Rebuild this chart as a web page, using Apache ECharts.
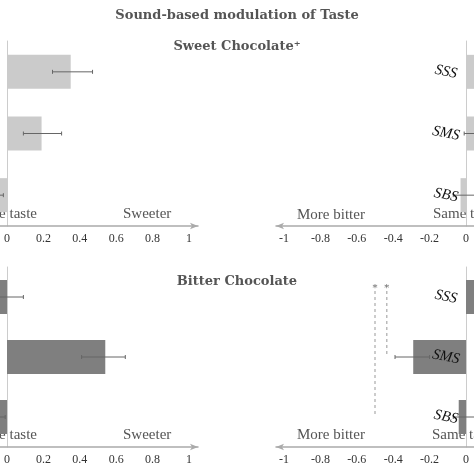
<!DOCTYPE html>
<html lang="en">
<head>
<meta charset="UTF-8">
<title>Sound-based modulation of Taste</title>
<script src="https://cdn.jsdelivr.net/npm/echarts@6/dist/echarts.min.js"></script>
<style>
    html, body { margin: 0; padding: 0; background: #fff; }
    #chart { width: 474px; height: 474px; }
</style>
</head>
<body>
<div id="chart"></div>
<script>
    // categories (top to bottom)
    let categories = ['SSS', 'SMS', 'SBS'];
    let tickLeft = [0, 0.2, 0.4, 0.6, 0.8, 1];
    let tickRight = [-1, -0.8, -0.6, -0.4, -0.2, 0];

    // sweet chocolate: sweetness (left) and bitterness (right)
    let sweetSweeter = [0.35, 0.19, -0.1];
    let sweetSweeterErr = [[0.25, 0.47], [0.09, 0.30], [-0.2, -0.02]];
    let sweetBitter = [0.1, 0.08, -0.03];
    let sweetBitterErr = [[0.05, 0.15], [-0.01, 0.17], [-0.07, 0.05]];

    // bitter chocolate
    let bitterSweeter = [-0.1, 0.54, -0.1];
    let bitterSweeterErr = [[-0.2, 0.09], [0.41, 0.65], [-0.2, -0.01]];
    let bitterBitter = [0.1, -0.29, -0.04];
    let bitterBitterErr = [[0.05, 0.15], [-0.39, -0.2], [-0.07, 0.05]];

    // significance brackets on bitter chocolate, bitterness panel: [x, fromCat, toCat]
    let brackets = [[-0.5, 0, 2], [-0.435, 0, 1]];

    // x position of the condition labels in the bitterness panels
    let labelX = -0.11;

    let serif = 'DejaVu Serif';
    let times = 'Liberation Serif';
    let sweetColor = '#cbcbcb';
    let bitterColor = '#7f7f7f';

    // grid geometry: 182 px per unit
    let grids = [
        {left: 0, top: 41, width: 198, height: 185},
        {left: 284 - 8, top: 41, width: 198, height: 185},
        {left: 0, top: 267, width: 198, height: 180},
        {left: 284 - 8, top: 267, width: 198, height: 180}
    ];

    function xAxisFor(i, isLeft) {
        return {
            type: 'value', gridIndex: i,
            min: isLeft ? -7 / 182 : -1 - 8 / 182,
            max: isLeft ? 1 + 9 / 182 : 8 / 182,
            splitLine: {show: false},
            axisLine: {show: true, onZero: false, lineStyle: {color: '#aaa', width: 1.5},
                symbol: isLeft ? ['none', 'arrow'] : ['arrow', 'none'], symbolSize: [5, 8]},
            axisTick: {show: false},
            axisLabel: {customValues: isLeft ? tickLeft : tickRight, color: '#333',
                fontFamily: times, fontSize: 12, margin: 7}
        };
    }

    function yAxisFor(i) {
        return {
            type: 'category', gridIndex: i, data: categories, inverse: true,
            axisLine: {show: true, onZero: true, lineStyle: {color: '#ccc'}},
            axisTick: {show: false},
            axisLabel: {show: false}
        };
    }

    function barSeries(i, values, color) {
        return {
            type: 'bar', xAxisIndex: i, yAxisIndex: i, data: values,
            barWidth: 34, itemStyle: {color: color}, silent: true
        };
    }

    function errSeries(i, errs) {
        return {
            type: 'custom', xAxisIndex: i, yAxisIndex: i, silent: true, z: 5,
            data: errs.map((e, k) => [k, e[0], e[1]]),
            renderItem: function (params, api) {
                let a = api.coord([api.value(1), api.value(0)]);
                let b = api.coord([api.value(2), api.value(0)]);
                let st = {stroke: '#666', lineWidth: 1};
                return {type: 'group', children: [
                    {type: 'line', shape: {x1: a[0], y1: a[1], x2: b[0], y2: b[1]}, style: st},
                    {type: 'line', shape: {x1: a[0], y1: a[1] - 2, x2: a[0], y2: a[1] + 2}, style: st},
                    {type: 'line', shape: {x1: b[0], y1: b[1] - 2, x2: b[0], y2: b[1] + 2}, style: st}
                ]};
            }
        };
    }

    function labelSeries(i) {
        return {
            type: 'custom', xAxisIndex: i, yAxisIndex: i, silent: true, z: 6,
            data: categories.map((c, k) => [k, labelX, c]),
            renderItem: function (params, api) {
                let p = api.coord([api.value(1), api.value(0)]);
                return {type: 'text', x: p[0], y: p[1], rotation: -0.2,
                    style: {text: categories[params.dataIndex], fill: '#111',
                        font: 'italic 15px ' + times, align: 'center', verticalAlign: 'middle'}};
            }
        };
    }

    let bracketSeries = {
        type: 'custom', xAxisIndex: 3, yAxisIndex: 3, silent: true,
        data: brackets,
        renderItem: function (params, api) {
            let a = api.coord([api.value(0), api.value(1)]);
            let b = api.coord([api.value(0), api.value(2)]);
            return {type: 'group', children: [
                {type: 'line', shape: {x1: a[0], y1: a[1] - 6, x2: b[0], y2: b[1] - 2},
                    style: {stroke: '#999', lineWidth: 1, lineDash: [3, 3]}},
                {type: 'text', style: {x: a[0], y: a[1] - 14, text: '*', fill: '#666',
                    font: '10px ' + serif, align: 'center'}}
            ]};
        }
    };

    function noteText(x, y, text, align) {
        return {type: 'text', left: align === 'right' ? undefined : x, right: align === 'right' ? 474 - x : undefined,
            top: y, style: {text: text, font: '15px ' + times, fill: '#555'}};
    }

    let option = {
        animation: false,
        title: [
            {text: 'Sound-based modulation of Taste', left: 'center', top: 4,
                textStyle: {fontFamily: serif, fontWeight: 'bold', fontSize: 13, color: '#555'}},
            {text: 'Sweet Chocolate\u207A', left: 'center', top: 35,
                textStyle: {fontFamily: serif, fontWeight: 'bold', fontSize: 13, color: '#555'}},
            {text: 'Bitter Chocolate', left: 'center', top: 270,
                textStyle: {fontFamily: serif, fontWeight: 'bold', fontSize: 13, color: '#555'}}
        ],
        grid: grids,
        xAxis: [xAxisFor(0, true), xAxisFor(1, false), xAxisFor(2, true), xAxisFor(3, false)],
        yAxis: [yAxisFor(0), yAxisFor(1), yAxisFor(2), yAxisFor(3)],
        series: [
            barSeries(0, sweetSweeter, sweetColor), errSeries(0, sweetSweeterErr),
            barSeries(1, sweetBitter, sweetColor), errSeries(1, sweetBitterErr), labelSeries(1),
            barSeries(2, bitterSweeter, bitterColor), errSeries(2, bitterSweeterErr),
            barSeries(3, bitterBitter, bitterColor), errSeries(3, bitterBitterErr), labelSeries(3),
            bracketSeries
        ],
        graphic: [
            noteText(37, 207, 'Same taste', 'right'),
            noteText(123, 207, 'Sweeter'),
            noteText(297, 208, 'More bitter'),
            noteText(433, 207, 'Same taste'),
            noteText(37, 428, 'Same taste', 'right'),
            noteText(123, 428, 'Sweeter'),
            noteText(297, 428, 'More bitter'),
            noteText(432, 428, 'Same taste')
        ]
    };

    echarts.init(document.getElementById('chart')).setOption(option);
</script>
</body>
</html>
